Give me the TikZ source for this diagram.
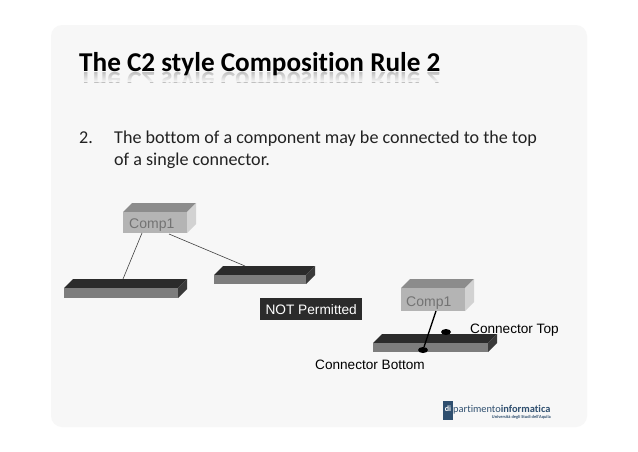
\documentclass[tikz,border=0pt]{standalone}
\usepackage{fontspec}
\setmainfont[Ligatures={NoCommon,NoRequired,NoContextual}]{Carlito}
\newfontfamily\arial{Liberation Sans}
\usetikzlibrary{fadings,shapes.geometric}
\definecolor{panel}{HTML}{F7F7F7}
\definecolor{cfront}{HTML}{B4B4B4}
\definecolor{ctop}{HTML}{8C8C8C}
\definecolor{cside}{HTML}{D2D2D2}
\definecolor{bfront}{HTML}{7D7D7D}
\definecolor{btop}{HTML}{2B2B2B}
\definecolor{bside}{HTML}{3A3A3A}
\definecolor{logoblue}{HTML}{2F4F6F}
\definecolor{bodytext}{HTML}{222222}
\tikzset{
  face/.style={draw=none,fill=#1},
  frontface/.style={draw=none,fill=#1,inner sep=0pt,outer sep=0pt,anchor=north west},
  titletext/.style={font=\bfseries\fontsize{27.2}{30}\selectfont,anchor=base west,inner sep=0pt},
  bodyline/.style={font=\fontsize{18.1}{24}\selectfont,text=bodytext,anchor=base west,inner sep=0pt},
  complabel/.style={font=\arial\fontsize{14}{16}\selectfont,text=black!55,anchor=base west,inner sep=0pt},
  label/.style={font=\arial\fontsize{13.6}{16}\selectfont,text=black,anchor=base west,inner sep=0pt},
  wire/.style={draw=black!75,line width=0.6pt},
  thickwire/.style={draw=black,line width=1.4pt},
  portdot/.style={ellipse,fill=black,draw=none,minimum width=10pt,minimum height=6pt,inner sep=0pt},
}
% name, x1, y1, x2, y2, front, top, side
\newcommand{\slab}[8]{%
  \fill[face=#7] (#2,#3) -- ({#2+9},{#3-9}) -- ({#4+9},{#3-9}) -- (#4,#3) -- cycle;
  \fill[face=#8] (#4,#3) -- ({#4+9},{#3-9}) -- ({#4+9},{#5-9}) -- (#4,#5) -- cycle;
  \node[frontface=#6,minimum width={(#4-#2)*1pt},minimum height={(#5-#3)*1pt}] (#1) at (#2,#3) {};
}
\begin{document}
\begin{tikzpicture}[x=1pt,y=-1pt]
\useasboundingbox (0,0) rectangle (638,451);
\fill[white] (0,0) rectangle (638,451);
\fill[panel,rounded corners=11pt] (51,25) rectangle (587,427);

% title and its reflection
\begin{scope}
\clip (70,72) rectangle (460,82);
\node[titletext,yscale=-1,transform shape,opacity=.22] (titlereflection) at (79,72.5) {The C2 style Composition Rule 2};
\fill[panel,path fading=north] (70,72) rectangle (460,82);
\end{scope}
\node[titletext] (title) at (79,71) {The C2 style Composition Rule 2};

% body
\node[bodyline] (num) at (79,143) {2.};
\node[bodyline] (l1) at (114,143) {The bottom of a component may be connected to the top};
\node[bodyline] (l2) at (114,165) {of a single connector.};

% left component and connectors
\slab{compa}{123}{212}{187}{233}{cfront}{ctop}{cside}
\node[complabel] (compatext) at (129,228) {Comp1};
\slab{barb}{64}{288}{178}{298}{bfront}{btop}{bside}
\slab{barc}{214}{275}{306}{284}{bfront}{btop}{bside}
\coordinate (a1) at (142,233);
\coordinate (b1) at (123,279);
\coordinate (a2) at (169,234);
\coordinate (c1) at (245,266);
\draw[wire] (a1) -- (b1);
\draw[wire] (a2) -- (c1);

% not permitted
\node[fill=btop,text=white,font=\arial\fontsize{13.7}{16}\selectfont,inner sep=0pt,minimum width=102pt,minimum height=22pt,anchor=north west] (np) at (260,298) {NOT Permitted\hspace{2pt}};

% right component
\slab{compd}{401}{288}{465}{311}{cfront}{ctop}{cside}
\node[complabel] (compdtext) at (406,306) {Comp1};
\slab{bare}{373}{343}{488}{352}{bfront}{btop}{bside}
\node[portdot] (top) at (446,332) {};
\node[portdot] (bottom) at (423,350) {};
\coordinate (d1) at (436,311);
\draw[thickwire] (d1) -- (bottom);
\node[label] (toptext) at (470,333) {Connector Top};
\node[label] (bottext) at (315,369) {Connector Bottom};

% logo
\fill[logoblue] (443,401) rectangle (453,420);
\node[font=\bfseries\fontsize{8}{9}\selectfont,text=white,inner sep=0pt] (logodi) at (448,409) {di};
\node[font=\fontsize{10.4}{12}\selectfont,text=logoblue,anchor=base west,inner sep=0pt] (logotext) at (453,412) {partimento\textbf{informatica}};
\node[font=\bfseries\fontsize{4.4}{5}\selectfont,text=logoblue,anchor=base east,inner sep=0pt] (logosub) at (551,418.5) {Università degli Studi dell'Aquila};
\end{tikzpicture}
\end{document}
